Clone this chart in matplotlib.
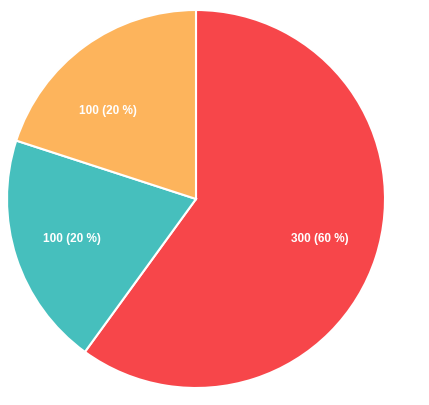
import matplotlib
matplotlib.use("Agg")
import matplotlib.pyplot as plt
import numpy as np

values = [300, 100, 100]
colors = ["#F7464A", "#46BFBD", "#FDB45C"]

total = sum(values)
labels = [f"{v} ({round(v / total * 100)} %)" for v in values]

fig = plt.figure(figsize=(4.29, 4.05), dpi=100)
ax = fig.add_axes([7 / 429, 17 / 405, 378 / 429, 378 / 405])
wedges, texts = ax.pie(values, colors=colors, startangle=90, counterclock=False,
                       radius=1, labels=labels, labeldistance=0.69,
                       wedgeprops=dict(edgecolor="white", linewidth=1.5),
                       textprops=dict(color="white", fontsize=8.5, fontfamily="Liberation Sans",
                                      fontweight="bold"))
for t in texts:
    t.set_ha("center")
    t.set_va("center")
# the orange label sits a bit off its slice centre in the original
ang = np.deg2rad(135)
texts[2].set_position((0.66 * np.cos(ang), 0.66 * np.sin(ang)))
ax.set_xlim(-1, 1)
ax.set_ylim(-1, 1)
ax.set_aspect("equal")
ax.axis("off")
fig.savefig("out.png", dpi=100)
